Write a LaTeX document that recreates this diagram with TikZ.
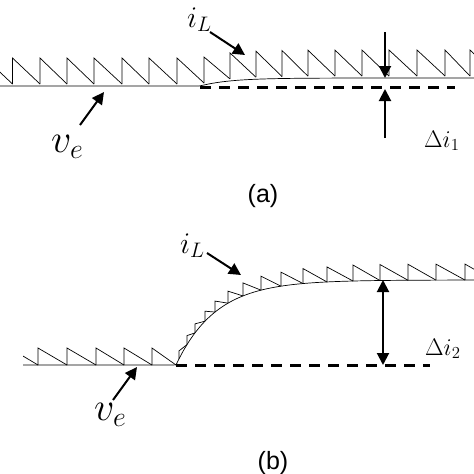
\RequirePackage{fix-cm}
\documentclass[tikz,border=0pt]{standalone}
\usepackage{fontspec}
\newfontfamily\capfont{Liberation Sans}
\usetikzlibrary{arrows.meta}

\begin{document}
\begin{tikzpicture}[x=1pt,y=-1pt,
  wave/.style={line width=0.7pt},
  dashref/.style={line width=3pt,dash pattern=on 11pt off 8pt},
  pointer/.style={line width=2pt,-{Triangle[length=12pt,width=12pt]}},
  twoway/.style={line width=2pt,{Triangle[length=12pt,width=12pt]}-{Triangle[length=12pt,width=12pt]}},
  lab/.style={inner sep=0pt,anchor=base west},
  declare function={
    vea(\x)=ifthenelse(\x<200,86,86-8*(1-exp(-(\x-200)/30)));
    veb(\x)=ifthenelse(\x<176,365,365-85*(1-exp(-(\x-176)/40)));
  }]
  \useasboundingbox (0,0) rectangle (474,474);

  % (a)
  \begin{scope}
    \clip (0,0) rectangle (474,230);
    \draw[wave] plot[domain=0:474,samples=120] (\x,{vea(\x)});
    \foreach \xa/\xb in {-15/12.5,12.5/40,40/67,67/94,94/122,122/149,149/177,177/204,
                         204/230,230/256,256/282,282/308,308/335,335/362,362/389,389/417,
                         417/445,445/470,470/497}
      \draw[wave] (\xa,{vea(\xa)-2}) -- (\xa,{vea(\xa)-28}) -- (\xb,{vea(\xb)-2});
  \end{scope}
  \coordinate (dsa) at (200,87);
  \coordinate (dea) at (455,87);
  \draw[dashref] (dsa) -- (dea);

  \node[lab,font=\fontsize{30}{36}\selectfont] (iLa) at (187,27) {$i_L$};
  \coordinate (iLatail) at (210,32);
  \coordinate (iLatip) at (245,55);
  \draw[pointer] (iLatail) -- (iLatip);

  \node[lab,font=\fontsize{40}{48}\selectfont] (vEa) at (51,152) {$v_e$};
  \coordinate (vEatail) at (80,125);
  \coordinate (vEatip) at (104,92);
  \draw[pointer] (vEatail) -- (vEatip);

  \coordinate (dtopa) at (385,32);
  \coordinate (dpeaka) at (385,78);
  \coordinate (dbota) at (385,138);
  \coordinate (ddasha) at (385,89);
  \draw[pointer] (dtopa) -- (dpeaka);
  \draw[pointer] (dbota) -- (ddasha);
  \node[lab,font=\fontsize{24}{29}\selectfont] (dia) at (424,147) {$\Delta i_1$};

  \node[font=\capfont\fontsize{25}{30}\selectfont] (capa) at (263,196) {(a)};

  % (b)
  \begin{scope}
    \clip (23,230) rectangle (474,474);
    \draw[wave] plot[domain=23:474,samples=160] (\x,{veb(\x)});
    \foreach \xa/\h/\xb in {9.5/17/38,38/17/67,67/17/96,96/17/124,124/17/152,152/17/176,
                            179/8/187,187/9/195,195/9/205,205/10/215,215/11/228,228/12/243,
                            243/13/261,261/14/281,281/14/303,303/15/327,327/15/353,
                            353/16/380,380/16/408,408/16/436,436/16/465,465/16/493}
      \draw[wave] (\xa,{veb(\xa)}) -- (\xa,{veb(\xa)-\h}) -- (\xb,{veb(\xb)});
  \end{scope}
  \coordinate (dsb) at (176,365);
  \coordinate (deb) at (430,365);
  \draw[dashref] (dsb) -- (deb);

  \node[lab,font=\fontsize{30}{36}\selectfont] (iLb) at (180,253) {$i_L$};
  \coordinate (iLbtail) at (207,253);
  \coordinate (iLbtip) at (241,275);
  \draw[pointer] (iLbtail) -- (iLbtip);

  \node[lab,font=\fontsize{40}{48}\selectfont] (vEb) at (94,420) {$v_e$};
  \coordinate (vEbtail) at (113,400);
  \coordinate (vEbtip) at (137,367);
  \draw[pointer] (vEbtail) -- (vEbtip);

  \coordinate (dtopb) at (383,280);
  \coordinate (ddashb) at (383,365);
  \draw[twoway] (dtopb) -- (ddashb);
  \node[lab,font=\fontsize{24}{29}\selectfont] (dib) at (425,355) {$\Delta i_2$};

  \node[font=\capfont\fontsize{25}{30}\selectfont] (capb) at (273,463) {(b)};
\end{tikzpicture}
\end{document}
